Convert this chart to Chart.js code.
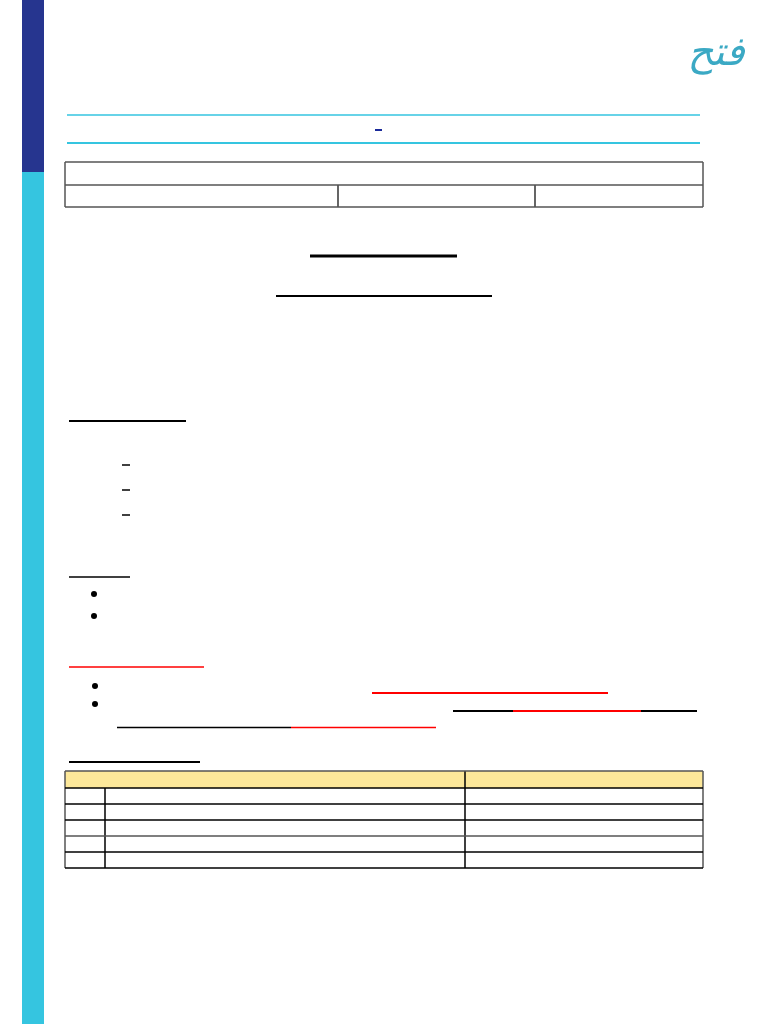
<!DOCTYPE html>
<html><head><meta charset="utf-8">
<script src="https://cdn.jsdelivr.net/npm/chart.js"></script>
<style>html,body{margin:0;padding:0;background:#fff}#w{width:768px;height:1024px;position:relative}</style>
</head><body><div id="w"><canvas id="c"></canvas></div>
<script>
// Filled blocks: [x1,y1,x2,y2,color]
const fills = [
  [22,0,44,172,'#26358F'],
  [22,172,44,1024,'#35C5E0'],
  [65,771,703,788,'#FDE89A']
];
// Rule segments: [x1,y1,x2,y2,color,width]
const headerRules = [
  [67,115,700,115,'#35C5E0',1.5],
  [67,143,700,143,'#35C5E0',2],
  [375,130,382,130,'#1a2a9a',2]
];
const table1 = [
  [65,162,703,162,'#555',1.5],[65,185,703,185,'#555',1.5],[65,207,703,207,'#555',1.5],
  [65,162,65,207,'#555',1.5],[703,162,703,207,'#555',1.5],
  [338,185,338,207,'#000',1.2],[535,185,535,207,'#000',1.2]
];
const underlines = [
  [310,256,457,256,'#000',3],[276,296,492,296,'#000',2],
  [69,421,186,421,'#000',2],
  [122,465,130,465,'#000',1.5],[122,490,130,490,'#000',1.5],[122,515,130,515,'#000',1.5],
  [69,577,130,577,'#000',1.5],
  [69,667,204,667,'#f00',1.5],
  [372,693,608,693,'#f00',2],
  [453,711,513,711,'#000',2],[513,711,641,711,'#f00',2],[641,711,697,711,'#000',2],
  [117,727.5,291,727.5,'#000',1.5],[291,727.5,436,727.5,'#f00',1.5],
  [69,762,200,762,'#000',2]
];
const table2 = [
  [65,771,703,771,'#555',1.5],[65,788,703,788,'#000',1.5],[65,804,703,804,'#000',1.5],
  [65,820,703,820,'#000',1.5],[65,836,703,836,'#555',1.5],[65,852,703,852,'#000',1.5],
  [65,868,703,868,'#000',1.5],
  [65,771,65,868,'#555',1.5],[703,771,703,868,'#555',1.5],
  [465,771,465,868,'#000',1.5],[105,788,105,868,'#000',1.5]
];
// Bullets: [x,y]
const bullets = [[94,594],[94,616],[95,686],[95,704]];

const segs = [...headerRules,...table1,...underlines,...table2];
const datasets = segs.map(s=>({type:'line',data:[{x:s[0],y:s[1]},{x:s[2],y:s[3]}],borderColor:s[4],borderWidth:s[5],pointRadius:0,fill:false,tension:0}));
datasets.push({type:'scatter',data:bullets.map(b=>({x:b[0],y:b[1]})),pointRadius:3,backgroundColor:'#000',borderWidth:0});

const fillPlugin = {id:'fills',beforeDatasetsDraw(ch){
  const {ctx,scales:{x,y}}=ch; ctx.save();
  fills.forEach(f=>{ctx.fillStyle=f[4];const x1=x.getPixelForValue(f[0]),x2=x.getPixelForValue(f[2]),y1=y.getPixelForValue(f[1]),y2=y.getPixelForValue(f[3]);ctx.fillRect(x1,y1,x2-x1,y2-y1);});
  ctx.fillStyle='#3BA9C4';ctx.font='italic 40px "DejaVu Sans"';ctx.textAlign='center';ctx.textBaseline='middle';
  ctx.fillText('فتح',x.getPixelForValue(716),y.getPixelForValue(55));
  ctx.restore();}};

new Chart(document.getElementById('c'),{
  data:{datasets},
  options:{responsive:true,maintainAspectRatio:false,animation:false,
    layout:{padding:0},
    plugins:{legend:{display:false},tooltip:{enabled:false}},
    scales:{x:{type:'linear',min:4,max:764,display:false},y:{type:'linear',min:4,max:1020,reverse:true,display:false}}},
  plugins:[fillPlugin]
});
</script></body></html>
